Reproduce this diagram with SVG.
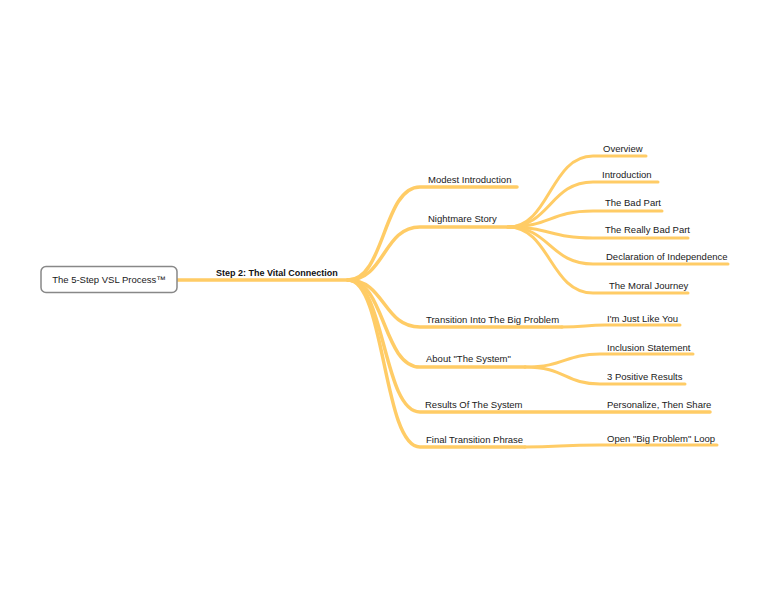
<svg xmlns="http://www.w3.org/2000/svg" width="768" height="594" viewBox="0 0 768 594">
<style>
.ln{fill:none;stroke:#FFCC66;stroke-width:3;stroke-linecap:round}
.main{stroke-width:3.5}
.t{font-family:"Liberation Sans",Arial,sans-serif;font-size:9.5px;fill:#1a1a1a}
.b{font-weight:bold;font-size:9px;fill:#111}
.root{fill:#fff;stroke:#888;stroke-width:1.5}
</style>
<rect width="768" height="594" fill="#fff"/>
<g id="connectors">
<path class="ln main" d="M177,280 L348,280"/>
<path class="ln main" d="M348,280 C385,280 383,187 420,187 L517,187"/>
<path class="ln main" d="M348,280 C385,280 383,227 420,227 L508,227"/>
<path class="ln main" d="M348,280 C385,280 383,327 420,327 L562,327"/>
<path class="ln main" d="M348,280 C385,280 383,367 420,367 L525,367"/>
<path class="ln main" d="M348,280 C385,280 383,412 420,412 L710,412"/>
<path class="ln main" d="M348,280 C385,280 383,447 420,447 L525,447"/>
<path class="ln" d="M508,227 C550,227 550,156 593,156 L646,156"/>
<path class="ln" d="M508,227 C550,227 550,182 593,182 L658,182"/>
<path class="ln" d="M508,227 C550,227 550,211 593,211 L662,211"/>
<path class="ln" d="M508,227 C550,227 550,238 593,238 L688,238"/>
<path class="ln" d="M508,227 C550,227 550,264 593,264 L728,264"/>
<path class="ln" d="M508,227 C550,227 550,293 593,293 L688,293"/>
<path class="ln" d="M562,327 C585,327 585,325 605,325 L680,325"/>
<path class="ln" d="M525,367 C565,367 565,354 600,354 L693,354"/>
<path class="ln" d="M525,367 C565,367 565,384 600,384 L685,384"/>
<path class="ln" d="M525,447 C560,447 560,445 600,445 L717,445"/>
</g>
<g id="root">
<rect class="root" x="41" y="266.5" width="136" height="26" rx="5"/>
<text class="t" x="109" y="283" text-anchor="middle">The 5-Step VSL Process™</text>
</g>
<g id="step2"><text class="t b" x="216" y="276">Step 2: The Vital Connection</text></g>
<g id="modest"><text class="t" x="428" y="183">Modest Introduction</text></g>
<g id="nightmare"><text class="t" x="428" y="222">Nightmare Story</text></g>
<g id="transition"><text class="t" x="426" y="323">Transition Into The Big Problem</text></g>
<g id="about"><text class="t" x="426" y="362">About "The System"</text></g>
<g id="results"><text class="t" x="425" y="408">Results Of The System</text></g>
<g id="final"><text class="t" x="426" y="443">Final Transition Phrase</text></g>
<g id="overview"><text class="t" x="603" y="152">Overview</text></g>
<g id="introduction"><text class="t" x="602" y="178">Introduction</text></g>
<g id="badpart"><text class="t" x="605" y="206">The Bad Part</text></g>
<g id="reallybad"><text class="t" x="605" y="233">The Really Bad Part</text></g>
<g id="declaration"><text class="t" x="606" y="260">Declaration of Independence</text></g>
<g id="moral"><text class="t" x="609" y="289">The Moral Journey</text></g>
<g id="justlikeyou"><text class="t" x="607" y="322">I'm Just Like You</text></g>
<g id="inclusion"><text class="t" x="607" y="351">Inclusion Statement</text></g>
<g id="positive"><text class="t" x="607" y="380">3 Positive Results</text></g>
<g id="personalize"><text class="t" x="607" y="408">Personalize, Then Share</text></g>
<g id="openloop"><text class="t" x="607" y="442">Open "Big Problem" Loop</text></g>
</svg>
